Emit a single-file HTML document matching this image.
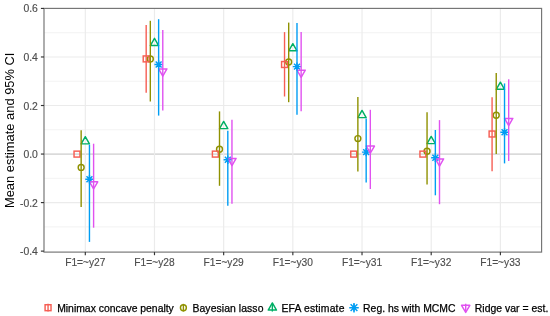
<!DOCTYPE html>
<html><head><meta charset="utf-8"><title>Mean estimate and 95% CI</title>
<style>
html,body{margin:0;padding:0;background:#fff;}
svg{display:block;}
text{font-family:"Liberation Sans",Arial,Helvetica,sans-serif;}
.tk{font-size:10px;fill:#4D4D4D;stroke:#4D4D4D;stroke-width:0.15px;}
.lg{font-size:10.4px;fill:#000;stroke:#000;stroke-width:0.25px;}
</style></head><body>
<svg width="550" height="316" viewBox="0 0 550 316">
<rect x="0" y="0" width="550" height="316" fill="#fff"/>
<line x1="44" y1="32.7" x2="541.6" y2="32.7" stroke="#EBEBEB" stroke-width="0.6"/>
<line x1="44" y1="81.24" x2="541.6" y2="81.24" stroke="#EBEBEB" stroke-width="0.6"/>
<line x1="44" y1="129.78" x2="541.6" y2="129.78" stroke="#EBEBEB" stroke-width="0.6"/>
<line x1="44" y1="178.32" x2="541.6" y2="178.32" stroke="#EBEBEB" stroke-width="0.6"/>
<line x1="44" y1="226.86" x2="541.6" y2="226.86" stroke="#EBEBEB" stroke-width="0.6"/>
<line x1="44" y1="56.97" x2="541.6" y2="56.97" stroke="#EBEBEB" stroke-width="1.15"/>
<line x1="44" y1="105.51" x2="541.6" y2="105.51" stroke="#EBEBEB" stroke-width="1.15"/>
<line x1="44" y1="154.05" x2="541.6" y2="154.05" stroke="#EBEBEB" stroke-width="1.15"/>
<line x1="44" y1="202.59" x2="541.6" y2="202.59" stroke="#EBEBEB" stroke-width="1.15"/>
<line x1="44" y1="154.05" x2="541.6" y2="154.05" stroke="#D3D3D3" stroke-width="1.2"/>
<line x1="85.3" y1="8.4" x2="85.3" y2="252.1" stroke="#EBEBEB" stroke-width="1.15"/>
<line x1="154.48" y1="8.4" x2="154.48" y2="252.1" stroke="#EBEBEB" stroke-width="1.15"/>
<line x1="223.66" y1="8.4" x2="223.66" y2="252.1" stroke="#EBEBEB" stroke-width="1.15"/>
<line x1="292.84" y1="8.4" x2="292.84" y2="252.1" stroke="#EBEBEB" stroke-width="1.15"/>
<line x1="362.02" y1="8.4" x2="362.02" y2="252.1" stroke="#EBEBEB" stroke-width="1.15"/>
<line x1="431.2" y1="8.4" x2="431.2" y2="252.1" stroke="#EBEBEB" stroke-width="1.15"/>
<line x1="500.38" y1="8.4" x2="500.38" y2="252.1" stroke="#EBEBEB" stroke-width="1.15"/>
<circle cx="81.15" cy="167.4" r="2.96" fill="none" stroke="#8F9100" stroke-width="1.45"/>
<circle cx="150.33" cy="58.9" r="2.96" fill="none" stroke="#8F9100" stroke-width="1.45"/>
<circle cx="219.51" cy="149.2" r="2.96" fill="none" stroke="#8F9100" stroke-width="1.45"/>
<circle cx="288.69" cy="62" r="2.96" fill="none" stroke="#8F9100" stroke-width="1.45"/>
<circle cx="357.87" cy="138.6" r="2.96" fill="none" stroke="#8F9100" stroke-width="1.45"/>
<circle cx="427.05" cy="151.3" r="2.96" fill="none" stroke="#8F9100" stroke-width="1.45"/>
<circle cx="496.23" cy="115.3" r="2.96" fill="none" stroke="#8F9100" stroke-width="1.45"/>
<polygon points="85.3,136.72 89.44,143.89 81.16,143.89" fill="none" stroke="#00AF65" stroke-width="1.45" stroke-linejoin="round"/>
<polygon points="154.48,38.37 158.62,45.54 150.34,45.54" fill="none" stroke="#00AF65" stroke-width="1.45" stroke-linejoin="round"/>
<polygon points="223.66,121.47 227.8,128.64 219.52,128.64" fill="none" stroke="#00AF65" stroke-width="1.45" stroke-linejoin="round"/>
<polygon points="292.84,43.67 296.98,50.84 288.7,50.84" fill="none" stroke="#00AF65" stroke-width="1.45" stroke-linejoin="round"/>
<polygon points="362.02,110.47 366.16,117.64 357.88,117.64" fill="none" stroke="#00AF65" stroke-width="1.45" stroke-linejoin="round"/>
<polygon points="431.2,136.47 435.34,143.64 427.06,143.64" fill="none" stroke="#00AF65" stroke-width="1.45" stroke-linejoin="round"/>
<polygon points="500.38,82.17 504.52,89.34 496.24,89.34" fill="none" stroke="#00AF65" stroke-width="1.45" stroke-linejoin="round"/>
<rect x="74.04" y="151.14" width="5.93" height="5.93" fill="none" stroke="#F65E54" stroke-width="1.45"/>
<rect x="143.22" y="55.94" width="5.93" height="5.93" fill="none" stroke="#F65E54" stroke-width="1.45"/>
<rect x="212.4" y="151.14" width="5.93" height="5.93" fill="none" stroke="#F65E54" stroke-width="1.45"/>
<rect x="281.58" y="61.54" width="5.93" height="5.93" fill="none" stroke="#F65E54" stroke-width="1.45"/>
<rect x="350.76" y="151.14" width="5.93" height="5.93" fill="none" stroke="#F65E54" stroke-width="1.45"/>
<rect x="419.94" y="151.14" width="5.93" height="5.93" fill="none" stroke="#F65E54" stroke-width="1.45"/>
<rect x="489.12" y="131.04" width="5.93" height="5.93" fill="none" stroke="#F65E54" stroke-width="1.45"/>
<path d="M86.49 176.34L92.41 182.26M86.49 182.26L92.41 176.34M85.26 179.3L93.64 179.3M89.45 175.11L89.45 183.49" stroke="#009DF3" stroke-width="1.45" stroke-linecap="butt" fill="none"/>
<path d="M155.67 61.54L161.59 67.46M155.67 67.46L161.59 61.54M154.44 64.5L162.82 64.5M158.63 60.31L158.63 68.69" stroke="#009DF3" stroke-width="1.45" stroke-linecap="butt" fill="none"/>
<path d="M224.85 156.84L230.77 162.76M224.85 162.76L230.77 156.84M223.62 159.8L232 159.8M227.81 155.61L227.81 163.99" stroke="#009DF3" stroke-width="1.45" stroke-linecap="butt" fill="none"/>
<path d="M294.03 63.64L299.95 69.56M294.03 69.56L299.95 63.64M292.8 66.6L301.18 66.6M296.99 62.41L296.99 70.79" stroke="#009DF3" stroke-width="1.45" stroke-linecap="butt" fill="none"/>
<path d="M363.21 149.14L369.13 155.06M363.21 155.06L369.13 149.14M361.98 152.1L370.36 152.1M366.17 147.91L366.17 156.29" stroke="#009DF3" stroke-width="1.45" stroke-linecap="butt" fill="none"/>
<path d="M432.39 154.74L438.31 160.66M432.39 160.66L438.31 154.74M431.16 157.7L439.54 157.7M435.35 153.51L435.35 161.89" stroke="#009DF3" stroke-width="1.45" stroke-linecap="butt" fill="none"/>
<path d="M501.57 129.34L507.49 135.26M501.57 135.26L507.49 129.34M500.34 132.3L508.72 132.3M504.53 128.11L504.53 136.49" stroke="#009DF3" stroke-width="1.45" stroke-linecap="butt" fill="none"/>
<polygon points="93.6,188.98 97.74,181.81 89.46,181.81" fill="none" stroke="#E052F0" stroke-width="1.45" stroke-linejoin="round"/>
<polygon points="162.78,76.13 166.92,68.96 158.64,68.96" fill="none" stroke="#E052F0" stroke-width="1.45" stroke-linejoin="round"/>
<polygon points="231.96,165.63 236.1,158.46 227.82,158.46" fill="none" stroke="#E052F0" stroke-width="1.45" stroke-linejoin="round"/>
<polygon points="301.14,77.33 305.28,70.16 297,70.16" fill="none" stroke="#E052F0" stroke-width="1.45" stroke-linejoin="round"/>
<polygon points="370.32,153.23 374.46,146.06 366.18,146.06" fill="none" stroke="#E052F0" stroke-width="1.45" stroke-linejoin="round"/>
<polygon points="439.5,166.08 443.64,158.91 435.36,158.91" fill="none" stroke="#E052F0" stroke-width="1.45" stroke-linejoin="round"/>
<polygon points="508.68,125.58 512.82,118.41 504.54,118.41" fill="none" stroke="#E052F0" stroke-width="1.45" stroke-linejoin="round"/>
<line x1="81.15" y1="130.3" x2="81.15" y2="207.1" stroke="#8F9100" stroke-width="1.4"/>
<line x1="89.45" y1="144.6" x2="89.45" y2="241.9" stroke="#009DF3" stroke-width="1.4"/>
<line x1="93.6" y1="143.7" x2="93.6" y2="227.7" stroke="#E052F0" stroke-width="1.4"/>
<line x1="146.18" y1="25" x2="146.18" y2="92.8" stroke="#F65E54" stroke-width="1.4"/>
<line x1="150.33" y1="20.8" x2="150.33" y2="101.5" stroke="#8F9100" stroke-width="1.4"/>
<line x1="158.63" y1="19.2" x2="158.63" y2="115.6" stroke="#009DF3" stroke-width="1.4"/>
<line x1="162.78" y1="30.1" x2="162.78" y2="110.4" stroke="#E052F0" stroke-width="1.4"/>
<line x1="219.51" y1="111.4" x2="219.51" y2="185.8" stroke="#8F9100" stroke-width="1.4"/>
<line x1="227.81" y1="130.8" x2="227.81" y2="205.8" stroke="#009DF3" stroke-width="1.4"/>
<line x1="231.96" y1="119.8" x2="231.96" y2="203.7" stroke="#E052F0" stroke-width="1.4"/>
<line x1="284.54" y1="32.1" x2="284.54" y2="96.5" stroke="#F65E54" stroke-width="1.4"/>
<line x1="288.69" y1="22.6" x2="288.69" y2="102.2" stroke="#8F9100" stroke-width="1.4"/>
<line x1="296.99" y1="23" x2="296.99" y2="114.8" stroke="#009DF3" stroke-width="1.4"/>
<line x1="301.14" y1="32.1" x2="301.14" y2="111.3" stroke="#E052F0" stroke-width="1.4"/>
<line x1="357.87" y1="97.1" x2="357.87" y2="171.4" stroke="#8F9100" stroke-width="1.4"/>
<line x1="366.17" y1="118.5" x2="366.17" y2="182.6" stroke="#009DF3" stroke-width="1.4"/>
<line x1="370.32" y1="109.8" x2="370.32" y2="189" stroke="#E052F0" stroke-width="1.4"/>
<line x1="427.05" y1="112.3" x2="427.05" y2="184.6" stroke="#8F9100" stroke-width="1.4"/>
<line x1="435.35" y1="130" x2="435.35" y2="195.3" stroke="#009DF3" stroke-width="1.4"/>
<line x1="439.5" y1="120.1" x2="439.5" y2="204.2" stroke="#E052F0" stroke-width="1.4"/>
<line x1="492.08" y1="97.2" x2="492.08" y2="171.3" stroke="#F65E54" stroke-width="1.4"/>
<line x1="496.23" y1="73" x2="496.23" y2="153.9" stroke="#8F9100" stroke-width="1.4"/>
<line x1="504.53" y1="83.4" x2="504.53" y2="163.4" stroke="#009DF3" stroke-width="1.4"/>
<line x1="508.68" y1="79.3" x2="508.68" y2="161" stroke="#E052F0" stroke-width="1.4"/>
<rect x="44" y="8.4" width="497.6" height="243.7" fill="none" stroke="#737373" stroke-width="1.15"/>
<line x1="40.9" y1="8.43" x2="44" y2="8.43" stroke="#333333" stroke-width="1.15"/><text class="tk" x="37.9" y="12.43" text-anchor="end" style="font-size:10.4px">0.6</text>
<line x1="40.9" y1="56.97" x2="44" y2="56.97" stroke="#333333" stroke-width="1.15"/><text class="tk" x="37.9" y="60.97" text-anchor="end" style="font-size:10.4px">0.4</text>
<line x1="40.9" y1="105.51" x2="44" y2="105.51" stroke="#333333" stroke-width="1.15"/><text class="tk" x="37.9" y="109.51" text-anchor="end" style="font-size:10.4px">0.2</text>
<line x1="40.9" y1="154.05" x2="44" y2="154.05" stroke="#333333" stroke-width="1.15"/><text class="tk" x="37.9" y="158.05" text-anchor="end" style="font-size:10.4px">0.0</text>
<line x1="40.9" y1="202.59" x2="44" y2="202.59" stroke="#333333" stroke-width="1.15"/><text class="tk" x="37.9" y="206.59" text-anchor="end" style="font-size:10.4px">-0.2</text>
<line x1="40.9" y1="251.13" x2="44" y2="251.13" stroke="#333333" stroke-width="1.15"/><text class="tk" x="37.9" y="255.13" text-anchor="end" style="font-size:10.4px">-0.4</text>
<line x1="85.3" y1="252.1" x2="85.3" y2="255.2" stroke="#333333" stroke-width="1.15"/><text class="tk" x="85.3" y="265.8" style="font-size:10.2px" text-anchor="middle">F1=~y27</text>
<line x1="154.48" y1="252.1" x2="154.48" y2="255.2" stroke="#333333" stroke-width="1.15"/><text class="tk" x="154.48" y="265.8" style="font-size:10.2px" text-anchor="middle">F1=~y28</text>
<line x1="223.66" y1="252.1" x2="223.66" y2="255.2" stroke="#333333" stroke-width="1.15"/><text class="tk" x="223.66" y="265.8" style="font-size:10.2px" text-anchor="middle">F1=~y29</text>
<line x1="292.84" y1="252.1" x2="292.84" y2="255.2" stroke="#333333" stroke-width="1.15"/><text class="tk" x="292.84" y="265.8" style="font-size:10.2px" text-anchor="middle">F1=~y30</text>
<line x1="362.02" y1="252.1" x2="362.02" y2="255.2" stroke="#333333" stroke-width="1.15"/><text class="tk" x="362.02" y="265.8" style="font-size:10.2px" text-anchor="middle">F1=~y31</text>
<line x1="431.2" y1="252.1" x2="431.2" y2="255.2" stroke="#333333" stroke-width="1.15"/><text class="tk" x="431.2" y="265.8" style="font-size:10.2px" text-anchor="middle">F1=~y32</text>
<line x1="500.38" y1="252.1" x2="500.38" y2="255.2" stroke="#333333" stroke-width="1.15"/><text class="tk" x="500.38" y="265.8" style="font-size:10.2px" text-anchor="middle">F1=~y33</text>
<text x="14.0" y="130.3" font-size="12.9" fill="#000" text-anchor="middle" transform="rotate(-90 14.0 130.3)">Mean estimate and 95% CI</text>
<line x1="48.05" y1="303.85" x2="48.05" y2="311.55" stroke="#F65E54" stroke-width="1.4"/><rect x="45.09" y="304.74" width="5.93" height="5.93" fill="none" stroke="#F65E54" stroke-width="1.45"/><text class="lg" x="57.15" y="311.9" style="font-size:10.4px;letter-spacing:0px">Minimax concave penalty</text>
<line x1="183.4" y1="303.85" x2="183.4" y2="311.55" stroke="#8F9100" stroke-width="1.4"/><circle cx="183.4" cy="307.7" r="2.96" fill="none" stroke="#8F9100" stroke-width="1.45"/><text class="lg" x="192.5" y="311.9" style="font-size:10.4px;letter-spacing:0.08px">Bayesian lasso</text>
<line x1="272.35" y1="303.85" x2="272.35" y2="311.55" stroke="#00AF65" stroke-width="1.4"/><polygon points="272.35,302.92 276.49,310.09 268.21,310.09" fill="none" stroke="#00AF65" stroke-width="1.45" stroke-linejoin="round"/><text class="lg" x="281.45" y="311.9" style="font-size:10.4px;letter-spacing:0.16px">EFA estimate</text>
<line x1="354" y1="303.85" x2="354" y2="311.55" stroke="#009DF3" stroke-width="1.4"/><path d="M350.62 304.32L357.38 311.07M350.62 311.07L357.38 304.32M349.23 307.7L358.77 307.7M354 302.93L354 312.47" stroke="#009DF3" stroke-width="1.45" stroke-linecap="butt" fill="none"/><text class="lg" x="363.1" y="311.9" style="font-size:10.4px;letter-spacing:0px">Reg. hs with MCMC</text>
<line x1="465.7" y1="303.85" x2="465.7" y2="311.55" stroke="#E052F0" stroke-width="1.4"/><polygon points="465.7,312.48 469.84,305.31 461.56,305.31" fill="none" stroke="#E052F0" stroke-width="1.45" stroke-linejoin="round"/><text class="lg" x="474.8" y="311.9" style="font-size:10.4px;letter-spacing:0.03px">Ridge var = est.</text>
</svg>
</body></html>
